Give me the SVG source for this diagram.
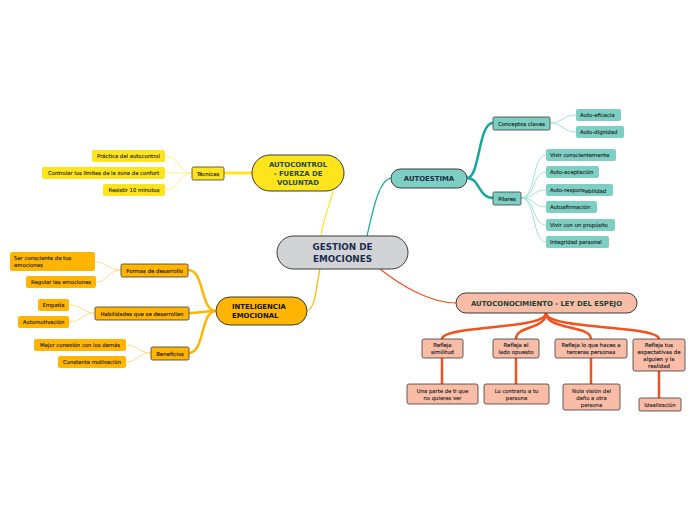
<svg xmlns="http://www.w3.org/2000/svg" width="696" height="520" viewBox="0 0 696 520">
<style>
text{font-family:"DejaVu Sans","Liberation Sans",sans-serif;}
.s{font-size:5.3px;fill:#1e1e1e;stroke:#1e1e1e;stroke-width:0.12;}
.m{font-size:5.4px;fill:#1a1a1a;stroke:#1a1a1a;stroke-width:0.12;}
.b{font-weight:bold;}
.mainS{stroke:#3a3a3a;stroke-width:1;}
.subS{stroke:#3a3a3a;stroke-width:0.8;}
.y{fill:#fee41d;} .t{fill:#7ecfc3;} .a{fill:#ffb502;} .r{fill:#f8bca7;} .g{fill:#d1d3d5;}
.cy{fill:none;stroke:#fee41d;} .ct{fill:none;stroke:#12a89d;} .ctl{fill:none;stroke:#a3e2da;}
.ca{fill:none;stroke:#ffb502;} .cal{fill:none;stroke:#ffdc8e;} .cyl{fill:none;stroke:#fff08a;}
.cr{fill:none;stroke:#f4511e;}
</style>
<rect width="696" height="520" fill="#fff"/>
<g id="connectors">
  <path class="cy" stroke-width="1.2" d="M321,236 C324,215 330,205 333,191"/>
  <path class="ct" stroke-width="1.2" d="M367,236 C372,215 378,180 391,178"/>
  <path class="ca" stroke-width="1.2" d="M320,269 C316,285 316,308 307,311"/>
  <path class="cr" stroke-width="1.2" d="M380,269 C400,285 430,303 456,303"/>
  <path class="cy" stroke-width="3" d="M224,173 L252,173"/>
  <path class="cyl" stroke-width="1" d="M192,173 C178,173 180,156 165,156"/>
  <path class="cyl" stroke-width="1" d="M192,173 L165,173"/>
  <path class="cyl" stroke-width="1" d="M192,173 C178,173 180,190 165,190"/>
  <path class="ct" stroke-width="2.5" d="M467,178 C480,178 478,123 493,123"/>
  <path class="ct" stroke-width="2.5" d="M467,178 C480,178 478,198 493,198"/>
  <path class="ctl" stroke-width="1" d="M550,123 C563,123 563,115 576,115"/>
  <path class="ctl" stroke-width="1" d="M550,123 C563,123 563,132 576,132"/>
  <path class="ctl" stroke-width="1" d="M521,198 C536,198 532,155 546,155"/>
  <path class="ctl" stroke-width="1" d="M521,198 C536,198 532,172 546,172"/>
  <path class="ctl" stroke-width="1" d="M521,198 C536,198 532,190 546,190"/>
  <path class="ctl" stroke-width="1" d="M521,198 C536,198 532,207 546,207"/>
  <path class="ctl" stroke-width="1" d="M521,198 C536,198 532,225 546,225"/>
  <path class="ctl" stroke-width="1" d="M521,198 C536,198 532,242 546,242"/>
  <path class="ca" stroke-width="2.5" d="M216,311 C200,311 205,270 188,270"/>
  <path class="ca" stroke-width="2.5" d="M216,311 C205,311 200,313 189,313"/>
  <path class="ca" stroke-width="2.5" d="M216,311 C200,311 205,353 189,353"/>
  <path class="cal" stroke-width="1" d="M121,270 C108,270 108,262 95,262"/>
  <path class="cal" stroke-width="1" d="M121,270 C108,270 108,282 96,282"/>
  <path class="cal" stroke-width="1" d="M95,313 C82,313 82,305 69,305"/>
  <path class="cal" stroke-width="1" d="M95,313 C82,313 82,322 69,322"/>
  <path class="cal" stroke-width="1" d="M151,353 C138,353 138,345 126,345"/>
  <path class="cal" stroke-width="1" d="M151,353 C138,353 138,362 126,362"/>
  <path class="cr" stroke-width="2.5" d="M546,313 C546,330 442,325 442,339"/>
  <path class="cr" stroke-width="2.5" d="M546,313 C546,330 516,325 516,339"/>
  <path class="cr" stroke-width="2.5" d="M546,313 C546,330 591,325 591,339"/>
  <path class="cr" stroke-width="2.5" d="M546,313 C546,330 659,325 659,339"/>
  <path class="cr" stroke-width="2.5" d="M442,358 L442,384"/>
  <path class="cr" stroke-width="2.5" d="M516,358 L516,384"/>
  <path class="cr" stroke-width="2.5" d="M591,358 L591,384"/>
  <path class="cr" stroke-width="2.5" d="M659,371 L659,398"/>
</g>
<g id="central">
  <rect class="g mainS" x="277" y="236" width="131" height="33" rx="16.5"/>
  <text class="b" x="342.5" y="250" font-size="8.8" fill="#1b2c52" text-anchor="middle">GESTION DE</text>
  <text class="b" x="342.5" y="261.5" font-size="8.8" fill="#1b2c52" text-anchor="middle">EMOCIONES</text>
</g>
<g id="autocontrol">
  <rect class="y mainS" x="252" y="155" width="92" height="36" rx="18"/>
  <text class="b" x="298" y="167" font-size="6.9" fill="#1e4a3a" text-anchor="middle">AUTOCONTROL</text>
  <text class="b" x="298" y="176" font-size="6.9" fill="#1e4a3a" text-anchor="middle">- FUERZA DE</text>
  <text class="b" x="298" y="185" font-size="6.9" fill="#1e4a3a" text-anchor="middle">VOLUNTAD</text>
</g>
<g id="tecnicas">
  <rect class="y subS" x="192" y="167" width="32" height="13" rx="1.5"/>
  <text class="m" x="208" y="175.5" text-anchor="middle">Técnicas</text>
</g>
<g id="practica"><rect class="y" x="92" y="150" width="73" height="12" rx="2"/><text class="s" x="128.5" y="158" text-anchor="middle">Práctica del autocontrol</text></g>
<g id="controlar"><rect class="y" x="42" y="167" width="123" height="12" rx="2"/><text class="s" x="103.5" y="175" text-anchor="middle">Controlar los límites de la zona de confort</text></g>
<g id="resistir"><rect class="y" x="103" y="184" width="62" height="12" rx="2"/><text class="s" x="134" y="192" text-anchor="middle">Resistir 10 minutos</text></g>
<g id="autoestima">
  <rect class="t mainS" x="391" y="169" width="76" height="19" rx="9.5"/>
  <text class="b" x="429" y="181" font-size="6.9" fill="#1c2e4a" text-anchor="middle">AUTOESTIMA</text>
</g>
<g id="conceptos"><rect class="t subS" x="493" y="117" width="57" height="13" rx="1.5"/><text class="m" x="521.5" y="125.5" text-anchor="middle">Conceptos claves</text></g>
<g id="pilares"><rect class="t subS" x="493" y="192" width="28" height="13" rx="1.5"/><text class="m" x="507" y="200.5" text-anchor="middle">Pilares</text></g>
<g id="autoeficacia"><rect class="t" x="576" y="109" width="45" height="12" rx="2"/><text class="s" x="580" y="117">Auto-eficacia</text></g>
<g id="autodignidad"><rect class="t" x="576" y="126" width="48" height="12" rx="2"/><text class="s" x="580" y="134">Auto-dignidad</text></g>
<g id="vivirconsc"><rect class="t" x="546" y="149" width="70" height="12" rx="2"/><text class="s" x="550" y="157">Vivir conscientemente</text></g>
<g id="autoacept"><rect class="t" x="546" y="166" width="53" height="12" rx="2"/><text class="s" x="550" y="174">Auto-aceptación</text></g>
<g id="autorespons"><rect class="t" x="546" y="184" width="67" height="12" rx="2"/><text class="s" x="550" y="191.5">Auto-respons<tspan dy="1">abilidad</tspan></text></g>
<g id="autoafirm"><rect class="t" x="546" y="201" width="51" height="12" rx="2"/><text class="s" x="550" y="209">Autoafirmación</text></g>
<g id="vivirprop"><rect class="t" x="546" y="219" width="69" height="12" rx="2"/><text class="s" x="550" y="227">Vivir con un propósito</text></g>
<g id="integridad"><rect class="t" x="546" y="236" width="63" height="12" rx="2"/><text class="s" x="550" y="244">Integridad personal</text></g>
<g id="inteligencia">
  <rect class="a mainS" x="216" y="297" width="91" height="28" rx="14"/>
  <text class="b" x="232" y="309" font-size="6.9" fill="#111">INTELIGENCIA</text>
  <text class="b" x="232" y="318" font-size="6.9" fill="#111">EMOCIONAL</text>
</g>
<g id="formas"><rect class="a subS" x="121" y="264" width="67" height="13" rx="1.5"/><text class="m" x="154.5" y="272.5" text-anchor="middle">Formas de desarrollo</text></g>
<g id="habilidades"><rect class="a subS" x="95" y="307" width="94" height="13" rx="1.5"/><text class="m" x="142" y="315.5" text-anchor="middle">Habilidades que se desarrollan</text></g>
<g id="beneficios"><rect class="a subS" x="151" y="347" width="38" height="13" rx="1.5"/><text class="m" x="170" y="355.5" text-anchor="middle">Beneficios</text></g>
<g id="serconsciente"><rect class="a" x="10" y="252" width="85" height="19" rx="2"/><text class="s" x="14" y="260">Ser consciente de tus</text><text class="s" x="14" y="266.5">emociones</text></g>
<g id="regular"><rect class="a" x="26" y="276" width="70" height="12" rx="2"/><text class="s" x="61" y="284" text-anchor="middle">Regular las emociones</text></g>
<g id="empatia"><rect class="a" x="38" y="299" width="31" height="12" rx="2"/><text class="s" x="53.5" y="307" text-anchor="middle">Empatía</text></g>
<g id="automotiv"><rect class="a" x="18" y="316" width="51" height="12" rx="2"/><text class="s" x="43.5" y="324" text-anchor="middle">Automotivación</text></g>
<g id="mejor"><rect class="a" x="34" y="339" width="92" height="12" rx="2"/><text class="s" x="80" y="347" text-anchor="middle">Mejor conexión con los demás</text></g>
<g id="constante"><rect class="a" x="58" y="356" width="68" height="12" rx="2"/><text class="s" x="92" y="364" text-anchor="middle">Constante motivación</text></g>
<g id="autoconocimiento">
  <rect class="r mainS" x="456" y="293" width="181" height="20" rx="10"/>
  <text class="b" x="546.5" y="305.5" font-size="6.9" fill="#1b4332" text-anchor="middle">AUTOCONOCIMIENTO - LEY DEL ESPEJO</text>
</g>
<g id="similitud"><rect class="r subS" x="422" y="339" width="41" height="19" rx="2"/><text class="m" x="442.5" y="347" text-anchor="middle">Refleja</text><text class="m" x="442.5" y="354" text-anchor="middle">similitud</text></g>
<g id="opuesto"><rect class="r subS" x="493" y="339" width="46" height="19" rx="2"/><text class="m" x="516" y="347" text-anchor="middle">Refleja el</text><text class="m" x="516" y="354" text-anchor="middle">lado opuesto</text></g>
<g id="terceras"><rect class="r subS" x="555" y="339" width="72" height="19" rx="2"/><text class="m" x="591" y="347" text-anchor="middle">Refleja lo que haces a</text><text class="m" x="591" y="354" text-anchor="middle">terceras personas</text></g>
<g id="expectativas"><rect class="r subS" x="633" y="339" width="52" height="32" rx="2"/><text class="m" x="659" y="347" text-anchor="middle">Refleja tus</text><text class="m" x="659" y="354" text-anchor="middle">expectativas de</text><text class="m" x="659" y="361" text-anchor="middle">alguien y la</text><text class="m" x="659" y="368" text-anchor="middle">realidad</text></g>
<g id="unaparte"><rect class="r subS" x="407" y="384" width="71" height="20" rx="2"/><text class="s" x="442.5" y="392.5" text-anchor="middle">Una parte de ti que</text><text class="s" x="442.5" y="399.5" text-anchor="middle">no quieres ver</text></g>
<g id="contrario"><rect class="r subS" x="484" y="384" width="65" height="20" rx="2"/><text class="s" x="516.5" y="392.5" text-anchor="middle">Lo contrario a tu</text><text class="s" x="516.5" y="399.5" text-anchor="middle">persona</text></g>
<g id="nula"><rect class="r subS" x="563" y="384" width="57" height="26" rx="2"/><text class="s" x="591.5" y="392.5" text-anchor="middle">Nula visión del</text><text class="s" x="591.5" y="399.5" text-anchor="middle">daño a otra</text><text class="s" x="591.5" y="406.5" text-anchor="middle">persona</text></g>
<g id="idealizacion"><rect class="r subS" x="639" y="398" width="42" height="13" rx="1.5"/><text class="s" x="660" y="406.5" text-anchor="middle">Idealización</text></g>
</svg>
